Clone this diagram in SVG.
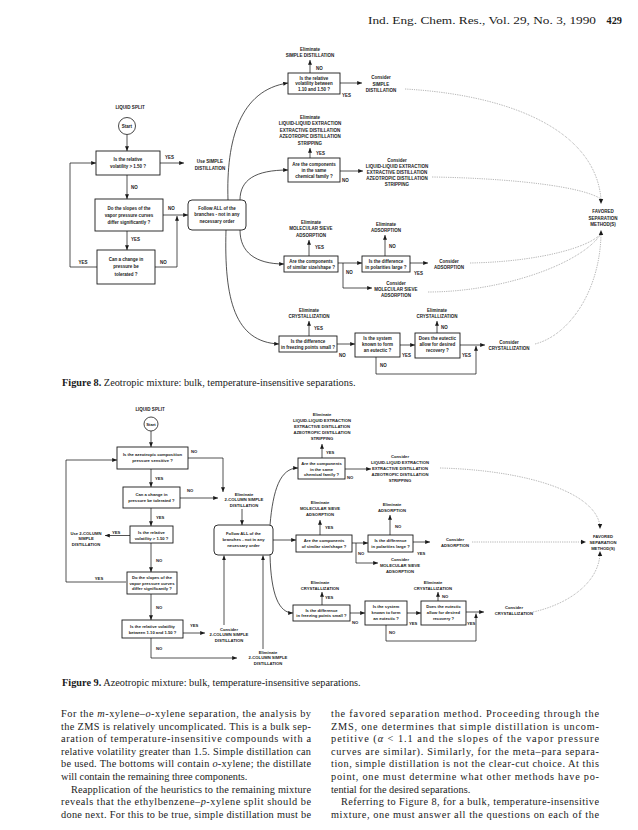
<svg xmlns="http://www.w3.org/2000/svg" width="638" height="830" viewBox="0 0 638 830">
<defs>
<marker id="ah" viewBox="0 0 6 5" refX="6" refY="2.5" markerWidth="5" markerHeight="4" markerUnits="userSpaceOnUse" orient="auto"><path d="M0,0 L6,2.5 L0,5 z" fill="#1a1a1a"/></marker>
</defs>
<style>
.l{font-family:"Liberation Sans",Arial,sans-serif;font-weight:bold;font-size:4.5px;fill:#1a1a1a;text-anchor:middle}
.n{font-size:4.2px}
.s{text-anchor:start}
.b{fill:#fff;stroke:#1a1a1a;stroke-width:0.9}
.c{fill:none;stroke:#1a1a1a;stroke-width:0.75}
.a{marker-end:url(#ah)}
.d{fill:none;stroke:#555;stroke-width:0.6;stroke-dasharray:0.7 1.1}
.p{font-family:"Liberation Serif","Times New Roman",serif;font-size:10.3px;fill:#1a1a1a}
.h{fill:#1a1a1a}
</style>
<rect width="638" height="830" fill="#fff"/>

<g id="header">
<text class="p" x="368" y="24" font-size="10.5" textLength="228" lengthAdjust="spacingAndGlyphs">Ind. Eng. Chem. Res., Vol. 29, No. 3, 1990</text>
<text class="p" x="622" y="24" font-size="10.5" text-anchor="end" font-weight="bold">429</text>
</g>

<!-- ================= FIGURE 8 ================= -->
<g id="fig8-connectors">
<path class="c a" d="M127,134.5 V151"/>
<path class="c a" d="M160,163 H184"/>
<path class="c a" d="M127,175 V199"/>
<path class="c a" d="M163,215 H188"/>
<path class="c a" d="M127,231 V250"/>
<path class="c a" d="M155,267 H177 V216"/>
<path class="c a" d="M97,267 H70 V163 H96"/>
<path class="c a" d="M228,200 C226,140 240,90 288,83"/>
<path class="c a" d="M226,230 C224,300 235,342 279,344"/>
<path class="c a" d="M240,200 C240,180 255,170 288,170"/>
<path class="c a" d="M240,230 C240,252 255,264 284,264"/>
<path class="c a" d="M310,73 V60"/>
<path class="c a" d="M340,83 H362"/>
<path class="c a" d="M310,158 V148"/>
<path class="c a" d="M340,171 H363"/>
<path class="c a" d="M309,256 V240"/>
<path class="c a" d="M338,263 H362"/>
<path class="c a" d="M343,263 V288 H372"/>
<path class="c a" d="M385,256 V235"/>
<path class="c a" d="M410,263 H428"/>
<path class="c a" d="M309,336 V321"/>
<path class="c a" d="M337,344 H355"/>
<path class="c a" d="M400,345 H415"/>
<path class="c a" d="M437,333 V321"/>
<path class="c a" d="M460,345 H485"/>
<path class="c a" d="M376,357 V374 H476 V346"/>
<path class="d" d="M405,89 C510,95 595,130 601,199"/>
<path class="d" d="M432,177 C500,178 580,185 601,199"/>
<path class="d" d="M470,263 C530,262 585,250 601,234"/>
<path class="d" d="M428,292 C500,292 580,265 601,234"/>
<path class="d" d="M535,344 C570,335 600,290 601,234"/>
<path class="h" d="M598.8,199 L603.2,199 L601,204 z"/>
<path class="h" d="M598.8,235 L603.2,235 L601,230 z"/>
</g>

<g id="fig8-liquid-split"><text class="l" x="130" y="109" font-size="5">LIQUID SPLIT</text></g>
<g id="fig8-start"><circle cx="127" cy="126" r="8.5" fill="#fff" stroke="#1a1a1a" stroke-width="0.8"/><text class="l" x="127" y="127.6">Start</text></g>
<g id="fig8-q-volatility150"><rect class="b" x="96" y="151" width="64" height="24"/><text class="l" x="128" y="161">Is the relative</text><text class="l" x="128" y="168">volatility &gt; 1.50 ?</text></g>
<g id="fig8-yes1"><text class="l s" x="165" y="159">YES</text></g>
<g id="fig8-use-simple"><text class="l" x="210" y="163">Use SIMPLE</text><text class="l" x="210" y="169.5">DISTILLATION</text></g>
<g id="fig8-no1"><text class="l s" x="131" y="189">NO</text></g>
<g id="fig8-q-slopes"><rect class="b" x="95" y="199" width="68" height="32"/><text class="l" x="129" y="209.5">Do the slopes of the</text><text class="l" x="129" y="216.5">vapor pressure curves</text><text class="l" x="129" y="223.5">differ significantly ?</text></g>
<g id="fig8-no2"><text class="l s" x="168" y="210">NO</text></g>
<g id="fig8-yes2"><text class="l s" x="131" y="241">YES</text></g>
<g id="fig8-q-pressure"><rect class="b" x="97" y="250" width="58" height="34"/><text class="l" x="126" y="260.5">Can a change in</text><text class="l" x="126" y="268">pressure be</text><text class="l" x="126" y="275.5">tolerated ?</text></g>
<g id="fig8-yes3"><text class="l" x="83" y="264">YES</text></g>
<g id="fig8-no3"><text class="l s" x="160" y="264">NO</text></g>
<g id="fig8-follow"><rect class="b" x="188" y="200" width="58" height="30" rx="4"/><text class="l" x="217" y="209.5">Follow ALL of the</text><text class="l" x="217" y="216">branches - not in any</text><text class="l" x="217" y="222.5">necessary order</text></g>

<g id="fig8-elim-simple"><text class="l" x="310" y="50.5">Eliminate</text><text class="l" x="310" y="56.5">SIMPLE DISTILLATION</text></g>
<g id="fig8-no4"><text class="l s" x="316" y="69.5">NO</text></g>
<g id="fig8-q-volatility110"><rect class="b" x="288" y="73" width="52" height="21"/><text class="l" x="314" y="79.5">Is the relative</text><text class="l" x="314" y="85.2">volatility between</text><text class="l" x="314" y="90.9">1.10 and 1.50 ?</text></g>
<g id="fig8-yes4"><text class="l s" x="342" y="96.5">YES</text></g>
<g id="fig8-cons-simple"><text class="l" x="381" y="79">Consider</text><text class="l" x="381" y="85.5">SIMPLE</text><text class="l" x="381" y="92">DISTILLATION</text></g>

<g id="fig8-elim-lle"><text class="l" x="310" y="118.5">Eliminate</text><text class="l" x="310" y="125">LIQUID-LIQUID EXTRACTION</text><text class="l" x="310" y="131.5">EXTRACTIVE DISTILLATION</text><text class="l" x="310" y="138">AZEOTROPIC DISTILLATION</text><text class="l" x="310" y="144.5">STRIPPING</text></g>
<g id="fig8-yes5"><text class="l s" x="316" y="155">YES</text></g>
<g id="fig8-q-family"><rect class="b" x="288" y="158" width="52" height="24"/><text class="l" x="314" y="165.5">Are the components</text><text class="l" x="314" y="171.5">in the same</text><text class="l" x="314" y="177.5">chemical family ?</text></g>
<g id="fig8-no5"><text class="l s" x="342" y="182">NO</text></g>
<g id="fig8-cons-lle"><text class="l" x="397" y="161.5">Consider</text><text class="l" x="397" y="167.5">LIQUID-LIQUID EXTRACTION</text><text class="l" x="397" y="173.5">EXTRACTIVE DISTILLATION</text><text class="l" x="397" y="179.5">AZEOTROPIC DISTILLATION</text><text class="l" x="397" y="185.5">STRIPPING</text></g>

<g id="fig8-elim-ms"><text class="l" x="311" y="223.5">Eliminate</text><text class="l" x="311" y="230">MOLECULAR SIEVE</text><text class="l" x="311" y="236.5">ADSORPTION</text></g>
<g id="fig8-yes6"><text class="l s" x="315" y="249">YES</text></g>
<g id="fig8-q-size"><rect class="b" x="284" y="256" width="54" height="16"/><text class="l" x="311" y="262.6">Are the components</text><text class="l" x="311" y="268.6">of similar size/shape ?</text></g>
<g id="fig8-no6"><text class="l s" x="346" y="274">NO</text></g>
<g id="fig8-cons-ms"><text class="l" x="396" y="284.5">Consider</text><text class="l" x="396" y="290.5">MOLECULAR SIEVE</text><text class="l" x="396" y="296.5">ADSORPTION</text></g>
<g id="fig8-elim-ads"><text class="l" x="386" y="225.5">Eliminate</text><text class="l" x="386" y="232">ADSORPTION</text></g>
<g id="fig8-no7"><text class="l s" x="389" y="248">NO</text></g>
<g id="fig8-q-polarity"><rect class="b" x="362" y="256" width="48" height="16"/><text class="l" x="386" y="262.6">Is the difference</text><text class="l" x="386" y="268.6">in polarities large ?</text></g>
<g id="fig8-yes7"><text class="l s" x="414" y="274.5">YES</text></g>
<g id="fig8-cons-ads"><text class="l" x="449" y="263">Consider</text><text class="l" x="449" y="269.3">ADSORPTION</text></g>

<g id="fig8-elim-cryst1"><text class="l" x="309" y="311.5">Eliminate</text><text class="l" x="309" y="317.5">CRYSTALLIZATION</text></g>
<g id="fig8-yes8"><text class="l s" x="314" y="330">YES</text></g>
<g id="fig8-q-freezing"><rect class="b" x="279" y="336" width="58" height="16"/><text class="l" x="308" y="342.6">Is the difference</text><text class="l" x="308" y="348.6">in freezing points small ?</text></g>
<g id="fig8-no8"><text class="l s" x="339" y="356.5">NO</text></g>
<g id="fig8-q-eutectic"><rect class="b" x="355" y="333" width="45" height="24"/><text class="l" x="377.5" y="339.6">Is the system</text><text class="l" x="377.5" y="345.6">known to form</text><text class="l" x="377.5" y="351.6">an eutectic ?</text></g>
<g id="fig8-yes9"><text class="l s" x="402" y="356.5">YES</text></g>
<g id="fig8-q-recovery"><rect class="b" x="415" y="333" width="45" height="25"/><text class="l" x="437.5" y="340">Does the eutectic</text><text class="l" x="437.5" y="346">allow for desired</text><text class="l" x="437.5" y="352">recovery ?</text></g>
<g id="fig8-elim-cryst2"><text class="l" x="437" y="311.5">Eliminate</text><text class="l" x="437" y="317.5">CRYSTALLIZATION</text></g>
<g id="fig8-no9"><text class="l s" x="441" y="328.5">NO</text></g>
<g id="fig8-yes10"><text class="l s" x="462" y="356.5">YES</text></g>
<g id="fig8-no10"><text class="l s" x="380" y="367">NO</text></g>
<g id="fig8-cons-cryst"><text class="l" x="509" y="343.5">Consider</text><text class="l" x="509" y="349.5">CRYSTALLIZATION</text></g>
<g id="fig8-favored"><text class="l" x="603" y="213">FAVORED</text><text class="l" x="603" y="219.5">SEPARATION</text><text class="l" x="603" y="226">METHOD(S)</text></g>

<g id="fig8-caption"><text class="p" x="62" y="386" font-size="9.2"><tspan font-weight="bold">Figure 8.</tspan> Zeotropic mixture:  bulk, temperature-insensitive separations.</text></g>

<!-- ================= FIGURE 9 ================= -->
<g id="fig9-connectors">
<path class="c a" d="M151,431 V447"/>
<path class="c a" d="M126,582 H66 V460 H117"/>
<path class="c a" d="M187,458 H223 V492"/>
<path class="c a" d="M151,469 V487"/>
<path class="c a" d="M179,498 H218"/>
<path class="c a" d="M242,509 V525"/>
<path class="c a" d="M273,540 H296"/>
<path class="c a" d="M270,525 C273,490 280,468 298,468"/>
<path class="c a" d="M270,555 C271,595 279,613 293,613"/>
<path class="c a" d="M151,508 V526"/>
<path class="c a" d="M130,535.5 H105"/>
<path class="c a" d="M151,543 V572"/>
<path class="c a" d="M151,594 V620"/>
<path class="c a" d="M183,633 H205"/>
<path class="c a" d="M224,625 V555.5"/>
<path class="c a" d="M151,638 V658 H237"/>
<path class="c a" d="M263,649 V555.5"/>
<path class="c a" d="M322,458 V444"/>
<path class="c a" d="M345,469 H371"/>
<path class="c a" d="M320,535 V520"/>
<path class="c a" d="M352,543 H368"/>
<path class="c a" d="M356,543 V563 H378"/>
<path class="c a" d="M390,535 V515"/>
<path class="c a" d="M413,542 H430"/>
<path class="c a" d="M322,605 V592"/>
<path class="c a" d="M350,613 H365"/>
<path class="c a" d="M407,613 H421"/>
<path class="c a" d="M438,601 V592"/>
<path class="c a" d="M466,612 H484"/>
<path class="c a" d="M386,625 V641 H476 V613.5"/>
<path class="d" d="M440,468 C520,470 595,490 600,526"/>
<path class="d" d="M472,542 H582"/>
<path class="d" d="M533,612 C565,605 598,585 600,554"/>
<path class="h" d="M597.8,524 L602.2,524 L600,529 z"/>
<path class="h" d="M597.8,556 L602.2,556 L600,551 z"/>
<path class="h" d="M581,539.8 L581,544.2 L586,542 z"/>
</g>

<g id="fig9-liquid-split"><text class="l" x="150" y="410.5" font-size="4.8">LIQUID SPLIT</text></g>
<g id="fig9-start"><circle cx="151" cy="424" r="7" fill="#fff" stroke="#1a1a1a" stroke-width="0.8"/><text class="l n" x="151" y="425.5">Start</text></g>
<g id="fig9-q-azeo"><rect class="b" x="117" y="447" width="71" height="22"/><text class="l n" x="152.5" y="455.5">Is the azeotropic composition</text><text class="l n" x="152.5" y="461.5">pressure sensitive ?</text></g>
<g id="fig9-no1"><text class="l n s" x="191" y="453">NO</text></g>
<g id="fig9-yes1"><text class="l n s" x="155" y="479.5">YES</text></g>
<g id="fig9-q-pressure"><rect class="b" x="123" y="487" width="57" height="21"/><text class="l n" x="151.5" y="495.5">Can a change in</text><text class="l n" x="151.5" y="501.5">pressure be tolerated ?</text></g>
<g id="fig9-no2"><text class="l n s" x="187" y="492">NO</text></g>
<g id="fig9-elim-2col1"><text class="l n" x="244" y="495.5">Eliminate</text><text class="l n" x="244" y="501">2-COLUMN SIMPLE</text><text class="l n" x="244" y="506.5">DISTILLATION</text></g>
<g id="fig9-follow"><rect class="b" x="214" y="525" width="59" height="30" rx="4"/><text class="l n" x="243.5" y="534.5">Follow ALL of the</text><text class="l n" x="243.5" y="540.5">branches - not in any</text><text class="l n" x="243.5" y="546.5">necessary order</text></g>
<g id="fig9-yes2"><text class="l n s" x="156" y="518.5">YES</text></g>
<g id="fig9-q-volatility150"><rect class="b" x="130" y="526" width="43" height="17"/><text class="l n" x="151.5" y="533.8">Is the relative</text><text class="l n" x="151.5" y="539.6">volatility &gt; 1.50 ?</text></g>
<g id="fig9-yes3"><text class="l n s" x="112" y="533.5">YES</text></g>
<g id="fig9-use-2col"><text class="l n" x="86" y="534.5">Use 2-COLUMN</text><text class="l n" x="86" y="540.2">SIMPLE</text><text class="l n" x="86" y="545.9">DISTILLATION</text></g>
<g id="fig9-no3"><text class="l n s" x="156" y="561.5">NO</text></g>
<g id="fig9-q-slopes"><rect class="b" x="127" y="572" width="50" height="22"/><text class="l n" x="152" y="579">Do the slopes of the</text><text class="l n" x="152" y="584.6">vapor pressure curves</text><text class="l n" x="152" y="590.2">differ significantly ?</text></g>
<g id="fig9-yes4"><text class="l n" x="99" y="579.5">YES</text></g>
<g id="fig9-no4"><text class="l n s" x="156" y="608.5">NO</text></g>
<g id="fig9-q-volatility110"><rect class="b" x="122" y="620" width="61" height="18"/><text class="l n" x="152.5" y="627.8">Is the relative volatility</text><text class="l n" x="152.5" y="633.5">between 1.10 and 1.50 ?</text></g>
<g id="fig9-yes5"><text class="l n s" x="190" y="626.5">YES</text></g>
<g id="fig9-cons-2col"><text class="l n" x="229" y="630.5">Consider</text><text class="l n" x="229" y="636">2-COLUMN SIMPLE</text><text class="l n" x="229" y="641.5">DISTILLATION</text></g>
<g id="fig9-no5"><text class="l n s" x="156" y="649.5">NO</text></g>
<g id="fig9-elim-2col2"><text class="l n" x="268" y="653.5">Eliminate</text><text class="l n" x="268" y="659">2-COLUMN SIMPLE</text><text class="l n" x="268" y="664.5">DISTILLATION</text></g>

<g id="fig9-elim-lle"><text class="l n" x="322" y="416">Eliminate</text><text class="l n" x="322" y="422">LIQUID-LIQUID EXTRACTION</text><text class="l n" x="322" y="428">EXTRACTIVE DISTILLATION</text><text class="l n" x="322" y="434">AZEOTROPIC DISTILLATION</text><text class="l n" x="322" y="440">STRIPPING</text></g>
<g id="fig9-yes6"><text class="l n s" x="326" y="453.5">YES</text></g>
<g id="fig9-q-family"><rect class="b" x="298" y="458" width="47" height="21"/><text class="l n" x="321.5" y="465">Are the components</text><text class="l n" x="321.5" y="470.5">in the same</text><text class="l n" x="321.5" y="476">chemical family ?</text></g>
<g id="fig9-no6"><text class="l n s" x="347" y="478.5">NO</text></g>
<g id="fig9-cons-lle"><text class="l n" x="400" y="458">Consider</text><text class="l n" x="400" y="464">LIQUID-LIQUID EXTRACTION</text><text class="l n" x="400" y="470">EXTRACTIVE DISTILLATION</text><text class="l n" x="400" y="476">AZEOTROPIC DISTILLATION</text><text class="l n" x="400" y="482">STRIPPING</text></g>
<g id="fig9-elim-ms"><text class="l n" x="320" y="504">Eliminate</text><text class="l n" x="320" y="510">MOLECULAR SIEVE</text><text class="l n" x="320" y="516">ADSORPTION</text></g>
<g id="fig9-yes7"><text class="l n s" x="325" y="528.5">YES</text></g>
<g id="fig9-q-size"><rect class="b" x="296" y="535" width="56" height="17"/><text class="l n" x="324" y="542">Are the components</text><text class="l n" x="324" y="547.8">of similar size/shape ?</text></g>
<g id="fig9-no7"><text class="l n s" x="358" y="554.5">NO</text></g>
<g id="fig9-cons-ms"><text class="l n" x="400" y="561">Consider</text><text class="l n" x="400" y="567">MOLECULAR SIEVE</text><text class="l n" x="400" y="573">ADSORPTION</text></g>
<g id="fig9-elim-ads"><text class="l n" x="392" y="505.5">Eliminate</text><text class="l n" x="392" y="511.5">ADSORPTION</text></g>
<g id="fig9-no8"><text class="l n s" x="395" y="528">NO</text></g>
<g id="fig9-q-polarity"><rect class="b" x="368" y="535" width="45" height="17"/><text class="l n" x="390.5" y="542">Is the difference</text><text class="l n" x="390.5" y="547.8">in polarities large ?</text></g>
<g id="fig9-yes8"><text class="l n s" x="417" y="554.5">YES</text></g>
<g id="fig9-cons-ads"><text class="l n" x="455" y="541">Consider</text><text class="l n" x="455" y="547">ADSORPTION</text></g>
<g id="fig9-favored"><text class="l n" x="603" y="537.5">FAVORED</text><text class="l n" x="603" y="543.5">SEPARATION</text><text class="l n" x="603" y="549.5">METHOD(S)</text></g>

<g id="fig9-elim-cryst1"><text class="l n" x="320" y="584">Eliminate</text><text class="l n" x="320" y="590">CRYSTALLIZATION</text></g>
<g id="fig9-yes9"><text class="l n s" x="325" y="599">YES</text></g>
<g id="fig9-q-freezing"><rect class="b" x="293" y="605" width="57" height="16"/><text class="l n" x="321.5" y="611.5">Is the difference</text><text class="l n" x="321.5" y="617">in freezing points small ?</text></g>
<g id="fig9-no9"><text class="l n s" x="352" y="624">NO</text></g>
<g id="fig9-q-eutectic"><rect class="b" x="365" y="601" width="42" height="24"/><text class="l n" x="386" y="607.5">Is the system</text><text class="l n" x="386" y="613.5">known to form</text><text class="l n" x="386" y="619.5">an eutectic ?</text></g>
<g id="fig9-yes10"><text class="l n s" x="409" y="625">YES</text></g>
<g id="fig9-q-recovery"><rect class="b" x="421" y="601" width="45" height="24"/><text class="l n" x="443.5" y="607.5">Does the eutectic</text><text class="l n" x="443.5" y="613.5">allow for desired</text><text class="l n" x="443.5" y="619.5">recovery ?</text></g>
<g id="fig9-elim-cryst2"><text class="l n" x="433" y="584">Eliminate</text><text class="l n" x="433" y="590">CRYSTALLIZATION</text></g>
<g id="fig9-no10"><text class="l n s" x="442" y="597.5">NO</text></g>
<g id="fig9-yes11"><text class="l n s" x="467" y="624.5">YES</text></g>
<g id="fig9-no11"><text class="l n s" x="389" y="634">NO</text></g>
<g id="fig9-cons-cryst"><text class="l n" x="514" y="608.5">Consider</text><text class="l n" x="514" y="614.5">CRYSTALLIZATION</text></g>

<g id="fig9-caption"><text class="p" x="62" y="686" font-size="9.2"><tspan font-weight="bold">Figure 9.</tspan> Azeotropic mixture:  bulk, temperature-insensitive separations.</text></g>

<!-- ================= BODY TEXT ================= -->
<g id="body-left">
<text class="p" x="61" y="717" textLength="250" lengthAdjust="spacing">For the <tspan font-style="italic">m</tspan>-xylene–<tspan font-style="italic">o</tspan>-xylene separation, the analysis by</text>
<text class="p" x="61" y="729.6" textLength="250" lengthAdjust="spacing">the ZMS is relatively uncomplicated.  This is a bulk sep-</text>
<text class="p" x="61" y="742.2" textLength="250" lengthAdjust="spacing">aration of temperature-insensitive compounds with a</text>
<text class="p" x="61" y="754.8" textLength="250" lengthAdjust="spacing">relative volatility greater than 1.5.  Simple distillation can</text>
<text class="p" x="61" y="767.4" textLength="250" lengthAdjust="spacing">be used.  The bottoms will contain <tspan font-style="italic">o</tspan>-xylene; the distillate</text>
<text class="p" x="61" y="780">will contain the remaining three components.</text>
<text class="p" x="71" y="792.6" textLength="240" lengthAdjust="spacing">Reapplication of the heuristics to the remaining mixture</text>
<text class="p" x="61" y="805.2" textLength="250" lengthAdjust="spacing">reveals that the ethylbenzene–<tspan font-style="italic">p</tspan>-xylene split should be</text>
<text class="p" x="61" y="817.8" textLength="250" lengthAdjust="spacing">done next.  For this to be true, simple distillation must be</text>
</g>
<g id="body-right">
<text class="p" x="331" y="717" textLength="268" lengthAdjust="spacing">the favored separation method.  Proceeding through the</text>
<text class="p" x="331" y="729.6" textLength="268" lengthAdjust="spacing">ZMS, one determines that simple distillation is uncom-</text>
<text class="p" x="331" y="742.2" textLength="268" lengthAdjust="spacing">petitive (<tspan font-style="italic">α</tspan> &lt; 1.1 and the slopes of the vapor pressure</text>
<text class="p" x="331" y="754.8" textLength="268" lengthAdjust="spacing">curves are similar).  Similarly, for the meta–para separa-</text>
<text class="p" x="331" y="767.4" textLength="268" lengthAdjust="spacing">tion, simple distillation is not the clear-cut choice.  At this</text>
<text class="p" x="331" y="780" textLength="268" lengthAdjust="spacing">point, one must determine what other methods have po-</text>
<text class="p" x="331" y="792.6">tential for the desired separations.</text>
<text class="p" x="341" y="805.2" textLength="258" lengthAdjust="spacing">Referring to Figure 8, for a bulk, temperature-insensitive</text>
<text class="p" x="331" y="817.8" textLength="268" lengthAdjust="spacing">mixture, one must answer all the questions on each of the</text>
</g>
</svg>
